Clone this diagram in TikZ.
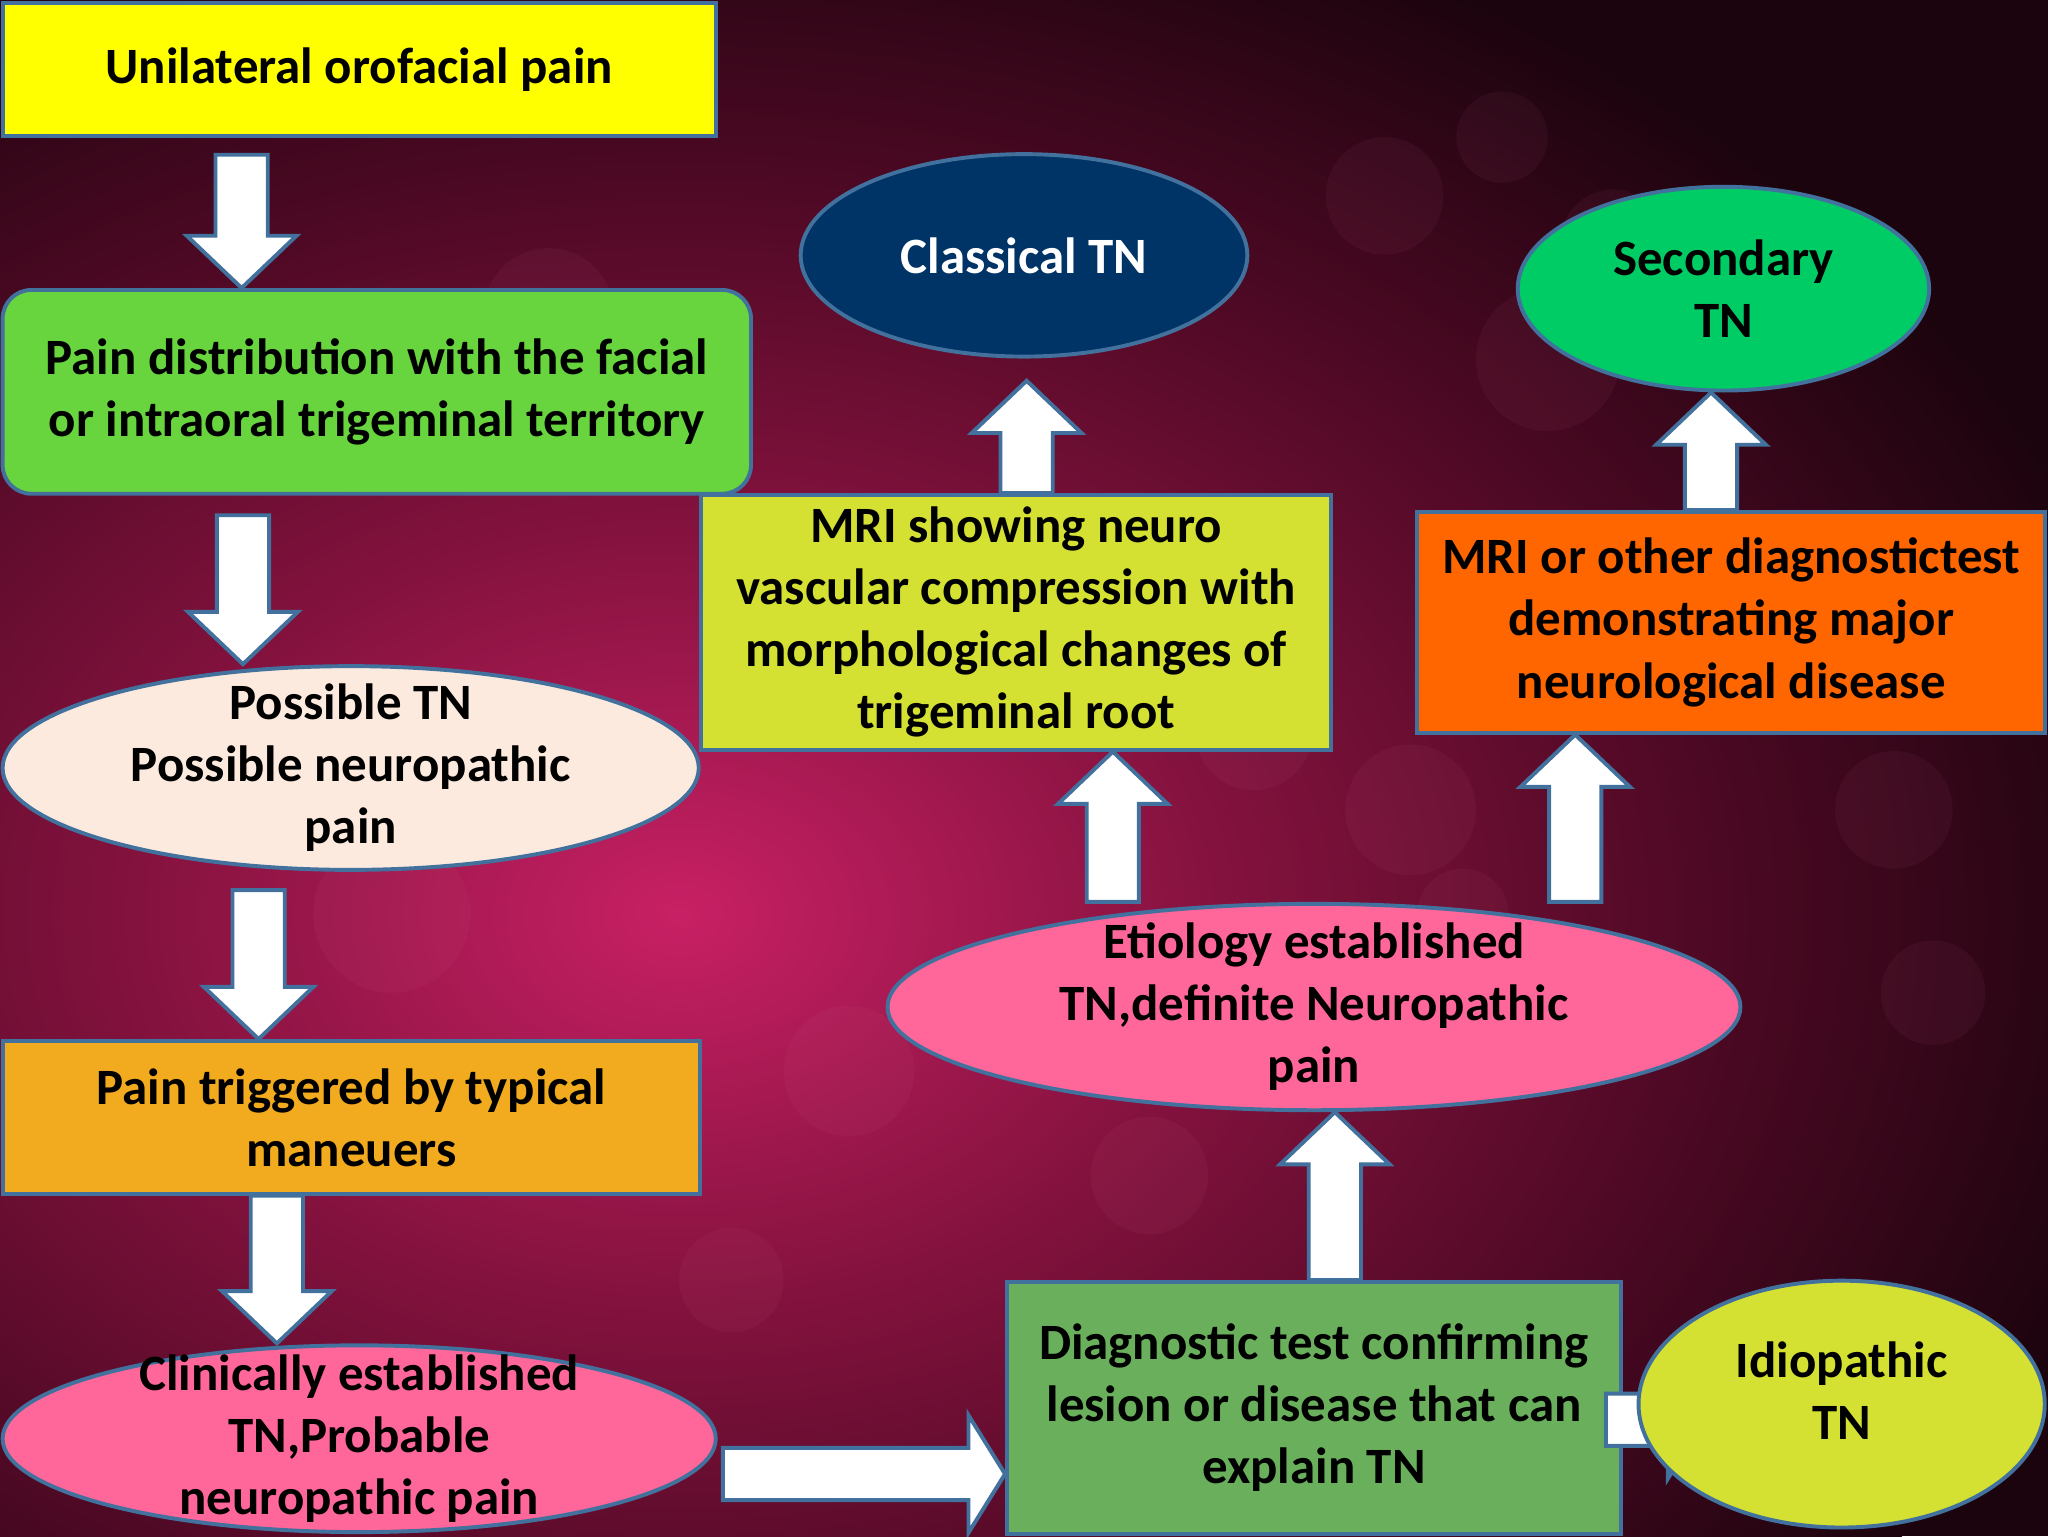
\documentclass[tikz,border=0pt]{standalone}
\usepackage{fontspec}
\setmainfont{Carlito}
\usepackage{tikz}
\usetikzlibrary{shapes.geometric,calc}
\definecolor{edgeblue}{RGB}{65,113,156}
\definecolor{bgdark}{RGB}{28,4,14}
\definecolor{glowlow}{RGB}{72,8,33}
\definecolor{glowmid}{RGB}{132,18,62}
\definecolor{glowin}{RGB}{200,32,100}
\definecolor{boxyellow}{RGB}{255,255,0}
\definecolor{boxgreen}{RGB}{104,212,62}
\definecolor{boxpeach}{RGB}{252,234,222}
\definecolor{boxamber}{RGB}{242,170,30}
\definecolor{boxpink}{RGB}{255,102,153}
\definecolor{boxmoss}{RGB}{106,176,92}
\definecolor{boxlime}{RGB}{212,224,50}
\definecolor{boxnavy}{RGB}{0,51,102}
\definecolor{boxorange}{RGB}{255,102,0}
\definecolor{boxmint}{RGB}{0,204,102}
\pgfdeclareradialshading{glow}{\pgfpoint{0bp}{0bp}}{color(0bp)=(glowin); color(9bp)=(glowmid); color(18bp)=(glowlow); color(25bp)=(bgdark); color(50bp)=(bgdark)}
\pgfdeclarelayer{bglayer}
\pgfdeclarelayer{underlayer}
\pgfdeclarelayer{toplayer}
\pgfsetlayers{bglayer,underlayer,main,toplayer}
\tikzset{
  boxbase/.style={draw=edgeblue, line width=3pt, inner sep=0pt, align=center,
                  font=\fontsize{39}{47.5}\selectfont\bfseries},
  rectbox/.style={boxbase, rectangle},
  ellbox/.style={boxbase, ellipse, inner xsep=-200pt, inner ysep=-100pt},
  blockarrow/.style={draw=edgeblue, fill=white, line width=3pt, line join=miter}
}
% vertical block arrow: start (its x is the axis), tip
\newcommand{\vblock}[2]{%
  \draw[blockarrow] let \p1=(#1), \p2=(#2), \n1={\y2-sign(\y2-\y1)*40} in
    ({\x1-20pt},\y1) -- ({\x1-20pt},{\n1*1pt}) -- ({\x1-42pt},{\n1*1pt})
    -- (\x1,\y2) -- ({\x1+42pt},{\n1*1pt}) -- ({\x1+20pt},{\n1*1pt})
    -- ({\x1+20pt},\y1) -- cycle;}
% horizontal block arrow: start (its y is the axis), tip
\newcommand{\hblock}[2]{%
  \draw[blockarrow] let \p1=(#1), \p2=(#2), \n1={\x2-sign(\x2-\x1)*28} in
    (\x1,{\y1+20pt}) -- ({\n1*1pt},{\y1+20pt}) -- ({\n1*1pt},{\y1+45pt})
    -- (\x2,\y1) -- ({\n1*1pt},{\y1-45pt}) -- ({\n1*1pt},{\y1-20pt})
    -- (\x1,{\y1-20pt}) -- cycle;}
\begin{document}
\begin{tikzpicture}[x=1pt,y=-1pt]
  \useasboundingbox (0,0) rectangle (1568,1176);

  % backdrop
  \begin{pgfonlayer}{bglayer}
    \begin{scope}
      \clip (0,0) rectangle (1568,1176);
      \fill[bgdark] (0,0) rectangle (1568,1176);
      \shade[shading=glow] (520,700) ellipse (1150 and 820);
      \foreach \bx/\by/\br in {1060/150/45, 1150/105/35, 1185/275/55, 1235/185/40,
          420/240/50, 960/560/45, 1080/620/50, 1120/700/35, 560/980/40,
          1450/620/45, 1480/760/40, 880/900/45, 300/700/60, 650/820/50}
        \fill[glowin!60!white, opacity=0.06] (\bx,\by) circle (\br);
    \end{scope}
  \end{pgfonlayer}

  % left column
  \node[rectbox, fill=boxyellow, minimum width=546pt, minimum height=102pt]
    (orofacial) at (275,53) {Unilateral orofacial pain};
  \node[rectbox, fill=boxgreen, rounded corners=22pt, minimum width=573pt,
        minimum height=156pt] (distrib) at (288.5,300)
    {Pain distribution with the facial\\or intraoral trigeminal territory};
  \node[ellbox, fill=boxpeach, minimum width=533pt, minimum height=156pt]
    (possible) at (268.5,588) {Possible TN\\Possible neuropathic\\pain};
  \node[rectbox, fill=boxamber, minimum width=534pt, minimum height=117pt]
    (trigger) at (269,855.5) {Pain triggered by typical\\maneuers};
  \node[ellbox, fill=boxpink, minimum width=546pt, minimum height=143pt]
    (clinical) at (275,1101.5) {Clinically established\\TN,Probable\\neuropathic pain};

  % right part
  \node[rectbox, fill=boxmoss, minimum width=470pt, minimum height=193pt]
    (diagtest) at (1006,1078)
    {Diagnostic test confirming\\lesion or disease that can\\explain TN};
  \begin{pgfonlayer}{toplayer}
    \node[ellbox, fill=boxlime, minimum width=311pt, minimum height=189pt]
      (idiopathic) at (1410,1075) {Idiopathic\\TN\\[-27.5pt]};
  \end{pgfonlayer}
  \node[ellbox, fill=boxpink, minimum width=653pt, minimum height=158pt]
    (etiology) at (1006,771) {Etiology established\\TN,definite Neuropathic\\pain};
  \node[rectbox, fill=boxlime, minimum width=482pt, minimum height=195pt]
    (mrivasc) at (778,476.5)
    {MRI showing neuro\\vascular compression with\\morphological changes of\\trigeminal root};
  \node[ellbox, fill=boxnavy, text=white, minimum width=342pt, minimum height=155pt]
    (classical) at (784,195.5) {Classical TN};
  \node[rectbox, fill=boxorange, minimum width=481pt, minimum height=169pt]
    (mrineuro) at (1325.5,476.5)
    {MRI or other diagnostictest\\demonstrating major\\neurological disease};
  \node[ellbox, fill=boxmint, minimum width=315pt, minimum height=156pt]
    (secondary) at (1319.5,221) {Secondary\\TN};

  % arrows down the left column
  \vblock{$(orofacial.south)+(-90,13)$}{distrib.north}
  \vblock{$(distrib.south)+(-102.5,15)$}{possible.north}
  \vblock{$(possible.south)+(-70.5,14)$}{trigger.north}
  \vblock{$(trigger.south)+(-57,0)$}{clinical.north}
  \hblock{$(clinical.east)+(4,27)$}{diagtest.west}
  \hblock{$(diagtest.east)+(-13,9)$}{$(idiopathic.west)+(52,0)$}

  % arrows up the right part
  \vblock{$(diagtest.north)+(16,0)$}{etiology.south}
  \begin{pgfonlayer}{underlayer}
    \vblock{$(etiology.north)+(-154,0)$}{mrivasc.south}
    \vblock{$(etiology.north)+(200,0)$}{mrineuro.south}
  \end{pgfonlayer}
  \vblock{$(mrivasc.north)+(8,0)$}{$(classical.south)+(0,17)$}
  \vblock{$(mrineuro.north)+(-15.5,0)$}{secondary.south}
\end{tikzpicture}
\end{document}
